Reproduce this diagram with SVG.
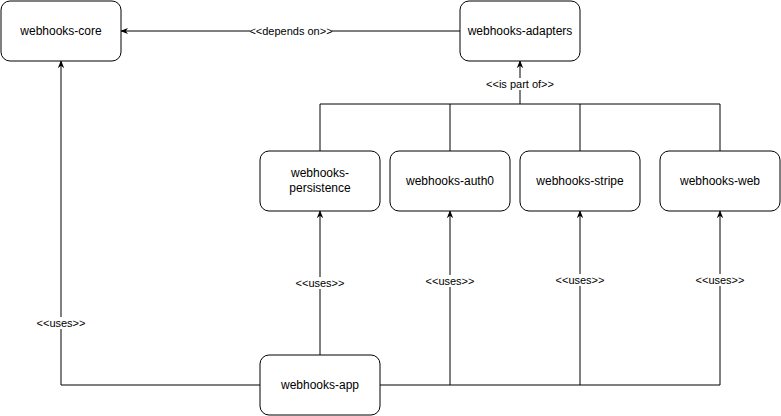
<svg xmlns="http://www.w3.org/2000/svg" width="781" height="416" viewBox="0 0 781 416">
<style>
.n rect{fill:#fff;stroke:#000;stroke-width:1}
.n text{font-family:"Liberation Sans",Arial,sans-serif;font-size:12px;text-anchor:middle;fill:#000}
.c path{fill:none;stroke:#000;stroke-width:1}
.l{font-family:"Liberation Sans",Arial,sans-serif;font-size:11px;text-anchor:middle;fill:#000}
.lb{fill:#fff}
</style>
<defs><marker id="a" viewBox="0 0 10 10" refX="9" refY="5" markerWidth="8" markerHeight="8" orient="auto"><path d="M0,1 L10,5 L0,9 L3,5 Z" fill="#000"/></marker></defs>
<rect width="781" height="416" fill="#fff"/>
<g class="c">
<path d="M460,31 H121" marker-end="url(#a)"/>
<path d="M320,151 V104 H720 V151 M450,151 V104 M580,151 V104 M520,104 V61" marker-end="url(#a)"/>
<path d="M260,385 H61 V61" marker-end="url(#a)"/>
<path d="M320,355 V211" marker-end="url(#a)"/>
<path d="M380,385 H450 V211" marker-end="url(#a)"/>
<path d="M450,385 H580 V211" marker-end="url(#a)"/>
<path d="M580,385 H720 V211" marker-end="url(#a)"/>
<rect class="lb" x="250" y="25" width="82" height="12"/>
<text class="l" x="291" y="35">&lt;&lt;depends on&gt;&gt;</text>
<rect class="lb" x="485" y="78" width="70" height="12"/>
<text class="l" x="520" y="88">&lt;&lt;is part of&gt;&gt;</text>
<rect class="lb" x="36" y="317" width="50" height="12"/>
<text class="l" x="61" y="327">&lt;&lt;uses&gt;&gt;</text>
<rect class="lb" x="295" y="277" width="50" height="12"/>
<text class="l" x="320" y="287">&lt;&lt;uses&gt;&gt;</text>
<rect class="lb" x="425" y="275" width="50" height="12"/>
<text class="l" x="450" y="285">&lt;&lt;uses&gt;&gt;</text>
<rect class="lb" x="555" y="274" width="50" height="12"/>
<text class="l" x="580" y="284">&lt;&lt;uses&gt;&gt;</text>
<rect class="lb" x="695" y="274" width="50" height="12"/>
<text class="l" x="720" y="284">&lt;&lt;uses&gt;&gt;</text>
</g>
<g id="core" class="n"><rect x="1" y="1" width="120" height="60" rx="9"/><text x="61" y="35">webhooks-core</text></g>
<g id="adapters" class="n"><rect x="460" y="1" width="120" height="60" rx="9"/><text x="520" y="35">webhooks-adapters</text></g>
<g id="persistence" class="n"><rect x="260" y="151" width="120" height="60" rx="9"/><text x="320" y="177">webhooks-</text><text x="320" y="192">persistence</text></g>
<g id="auth0" class="n"><rect x="390" y="151" width="120" height="60" rx="9"/><text x="450" y="185">webhooks-auth0</text></g>
<g id="stripe" class="n"><rect x="520" y="151" width="120" height="60" rx="9"/><text x="580" y="185">webhooks-stripe</text></g>
<g id="web" class="n"><rect x="660" y="151" width="120" height="60" rx="9"/><text x="720" y="185">webhooks-web</text></g>
<g id="app" class="n"><rect x="260" y="355" width="120" height="60" rx="9"/><text x="320" y="389">webhooks-app</text></g>
</svg>
